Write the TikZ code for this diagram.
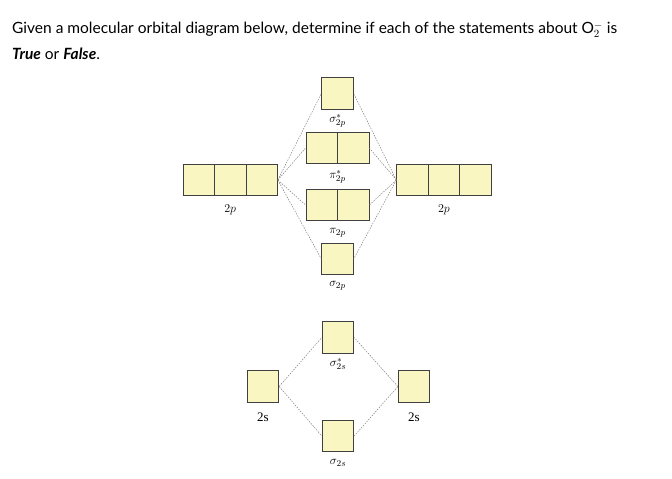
\documentclass[tikz,border=0pt]{standalone}
\usepackage{fontspec}
\setmainfont{Lato}
\newfontfamily\labfont{Liberation Serif}
\begin{document}
\begin{tikzpicture}[x=1pt,y=-1pt,
  orb/.style={draw=black!75,line width=0.8pt,fill=orbfill,inner sep=0pt,minimum width=31.5pt,minimum height=31.5pt},
  lab/.style={font=\fontsize{13}{15}\selectfont\labfont,inner sep=1pt},
  link/.style={draw=black!50,line width=0.5pt,dash pattern=on 1.5pt off 1.2pt}]
\definecolor{orbfill}{HTML}{FAF6C2}
\useasboundingbox (0,0) rectangle (672,479);
\node[anchor=base west,inner sep=0,font=\fontsize{15.5}{18}\selectfont] (t1) at (12,34) {Given a molecular orbital diagram below, determine if each of the statements about O$_2^{-}$ is};
\node[anchor=base west,inner sep=0,font=\fontsize{15.5}{18}\selectfont] (t2) at (12,59) {\textbf{\textit{True}} or \textbf{\textit{False}}.};
\node[orb] (L1) at (198.7,180) {};
\node[orb] (L2) at (230.2,180) {};
\node[orb] (L3) at (261.7,180) {};
\node[orb] (R1) at (412.5,180) {};
\node[orb] (R2) at (444,180) {};
\node[orb] (R3) at (475.5,180) {};
\node[orb] (sgs) at (337.5,93.5) {};
\node[orb] (pis1) at (321.7,148) {};
\node[orb] (pis2) at (353.2,148) {};
\node[orb] (pi1) at (321.7,205) {};
\node[orb] (pi2) at (353.2,205) {};
\node[orb] (sg) at (337.5,259) {};
\node[orb] (L2s) at (263,386.5) {};
\node[orb] (R2s) at (414,386.5) {};
\node[orb] (sss) at (338,337.5) {};
\node[orb] (ss) at (338,436) {};
\node[lab] at (337.5,121) {$\sigma^{*}_{2p}$};
\node[lab] at (337.5,177) {$\pi^{*}_{2p}$};
\node[lab] at (337.5,233) {$\pi_{2p}$};
\node[lab] at (337.5,286) {$\sigma_{2p}$};
\node[lab] at (230.2,210) {$2p$};
\node[lab] at (444,210) {$2p$};
\node[lab] at (338,364) {$\sigma^{*}_{2s}$};
\node[lab] at (338,463) {$\sigma_{2s}$};
\node[lab] at (263,417) {2s};
\node[lab] at (414,417) {2s};
\foreach \m in {sgs,pis1,pi1,sg} \draw[link] (L3.east) -- (\m.west);
\draw[link] (R1.west) -- (sgs.east);
\draw[link] (R1.west) -- (pis2.east);
\draw[link] (R1.west) -- (pi2.east);
\draw[link] (R1.west) -- (sg.east);
\draw[link] (L2s.east) -- (sss.west);
\draw[link] (L2s.east) -- (ss.west);
\draw[link] (R2s.west) -- (sss.east);
\draw[link] (R2s.west) -- (ss.east);
\end{tikzpicture}
\end{document}
